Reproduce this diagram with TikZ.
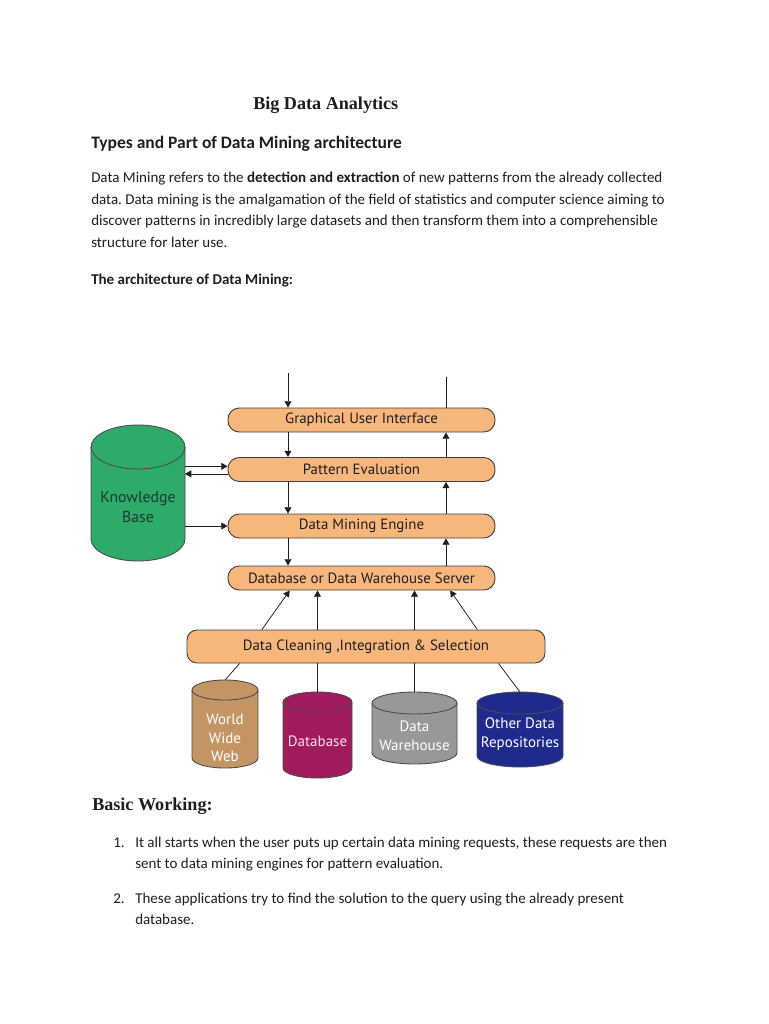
\documentclass[tikz,border=0pt]{standalone}
\usepackage{fontspec}
\setmainfont{Carlito}
\newfontfamily\titlefont{Liberation Serif}
\newfontfamily\diagfont{PT Sans}
\usetikzlibrary{positioning, arrows.meta, calc}
\frenchspacing

\definecolor{boxorange}{RGB}{247,183,124}
\definecolor{kbgreen}{RGB}{46,170,106}
\definecolor{kbtext}{RGB}{28,58,44}
\definecolor{wwwtan}{RGB}{196,149,100}
\definecolor{dbred}{RGB}{160,27,92}
\definecolor{dbtext}{RGB}{255,222,240}
\definecolor{whgray}{RGB}{152,152,152}
\definecolor{othblue}{RGB}{31,42,140}
\definecolor{ink}{RGB}{30,30,30}

% drum: name, centre x, top y, x radius, height, y radius, fill (all in px)
\newcommand{\drum}[7]{%
  \coordinate (#1top) at (#2,#3);
  \coordinate (#1east) at (#2+#4,#3+#5/2);
  \filldraw[fill=#7, draw=ink!80, line width=0.7pt]
    (#2-#4,#3+#6) -- (#2-#4,#3+#5-#6)
    arc[start angle=180, end angle=360, x radius=#4*0.8pt, y radius=#6*0.8pt]
    -- (#2+#4,#3+#6)
    arc[start angle=0, end angle=180, x radius=#4*0.8pt, y radius=#6*0.8pt] -- cycle;
  \draw[ink!80, line width=0.7pt] (#2-#4,#3+#6)
    arc[start angle=180, end angle=360, x radius=#4*0.8pt, y radius=#6*0.8pt];
}

\begin{document}
\begin{tikzpicture}[x=0.8pt, y=-0.8pt,
  layer/.style={draw=ink!85, line width=0.75pt, fill=boxorange, rounded corners=9pt, minimum width=213.6pt, minimum height=19.2pt, inner sep=0pt, font=\diagfont\fontsize{11.9}{14}\selectfont, text=ink},
  storetext/.style={inner sep=0pt, align=center, text=white, font=\diagfont\fontsize{12}{15}\selectfont},
  arr/.style={-{Triangle[length=5pt, width=5.5pt]}, draw=ink, line width=0.6pt},
  link/.style={draw=ink, line width=0.6pt},
  para/.style={anchor=base west, inner sep=0pt, font=\fontsize{12}{14}\selectfont, text=ink}]
\useasboundingbox[fill=white] (0,0) rectangle (768,1024);

% page text
\node[para, font=\titlefont\bfseries\fontsize{14.5}{17}\selectfont] (title) at (253,110) {Big Data Analytics};
\node[para, font=\bfseries\fontsize{14}{16}\selectfont] (head) at (91,148.5) {Types and Part of Data Mining architecture};
\node[para] (intro1) at (91,182.5) {Data Mining refers to the \textbf{detection and extraction} of new patterns from the already collected};
\node[para] (intro2) at (91,204.2) {data. Data mining is the amalgamation of the field of statistics and computer science aiming to};
\node[para] (intro3) at (91,225.9) {discover patterns in incredibly large datasets and then transform them into a comprehensible};
\node[para] (intro4) at (91,247.6) {structure for later use.};
\node[para, font=\bfseries\fontsize{12}{14}\selectfont] (archhead) at (91,284) {The architecture of Data Mining:};

% layers
\node[layer] (gui) at (361.5,420) {Graphical User Interface};
\node[layer] (pat) at (361.5,469.5) {Pattern Evaluation};
\node[layer] (dme) at (361.5,526) {Data Mining Engine};
\node[layer] (dbs) at (361.5,578) {Database or Data Warehouse Server};
\node[layer, rounded corners=8pt, minimum width=286.4pt, minimum height=26.4pt] (clean) at (366,646.5) {Data Cleaning ,Integration \& Selection};

% stores
\drum{kb}{138}{425}{47}{136}{22}{kbgreen}
\drum{www}{225}{680}{33}{88}{10}{wwwtan}
\drum{db}{317.5}{692}{34.5}{86}{10}{dbred}
\drum{wh}{414.5}{692}{42.5}{72}{11}{whgray}
\drum{oth}{520}{692}{43}{75}{11}{othblue}
\node[storetext, text=kbtext, font=\diagfont\fontsize{12.6}{16}\selectfont] (kb) at (138,507) {Knowledge\\Base};
\node[storetext] (www) at (225,738) {World\\Wide\\Web};
\node[storetext, text=dbtext] (db) at (317.5,741) {Database};
\node[storetext] (wh) at (414.5,736) {Data\\Warehouse};
\node[storetext] (oth) at (520,734) {Other Data\\Repositories};

% connectors
\coordinate (in) at (288,373);
\coordinate (out) at (446,377);
\draw[arr] (in) -- (gui.north -| in);
\draw[arr] (gui.south -| in) -- (pat.north -| in);
\draw[arr] (pat.south -| in) -- (dme.north -| in);
\draw[arr] (dme.south -| in) -- (dbs.north -| in);
\draw[link] (gui.north -| out) -- (out);
\draw[arr] (pat.north -| out) -- (gui.south -| out);
\draw[arr] (dme.north -| out) -- (pat.south -| out);
\draw[arr] (dbs.north -| out) -- (dme.south -| out);

\coordinate (kbin) at ([yshift=2.5pt]pat.west);
\coordinate (kbout) at ([yshift=-3.5pt]pat.west);
\draw[arr] (kbeast |- kbin) -- (kbin);
\draw[arr] (kbout) -- (kbeast |- kbout);
\draw[arr] (kbeast |- dme.west) -- (dme.west);

\draw[arr] ($(clean.north west)!0.21!(clean.north east)$) -- ($(dbs.south west)!0.232!(dbs.south east)$);
\draw[arr] (clean.north -| dbtop) -- (dbs.south -| dbtop);
\draw[arr] (clean.north -| whtop) -- (dbs.south -| whtop);
\draw[arr] ($(clean.north west)!0.81!(clean.north east)$) -- ($(dbs.south west)!0.831!(dbs.south east)$);

\draw[link] ($(clean.south west)!0.148!(clean.south east)$) -- (wwwtop);
\draw[link] (clean.south -| dbtop) -- (dbtop);
\draw[link] (clean.south -| whtop) -- (whtop);
\draw[link] ($(clean.south west)!0.869!(clean.south east)$) -- (othtop);

% basic working
\node[para, font=\titlefont\bfseries\fontsize{14.5}{17}\selectfont] (basic) at (92,810) {Basic Working:};
\node[para] (n1) at (113,847) {1.};
\node[para] (item1a) at (135,847) {It all starts when the user puts up certain data mining requests, these requests are then};
\node[para] (item1b) at (135,868) {sent to data mining engines for pattern evaluation.};
\node[para] (n2) at (113,903) {2.};
\node[para] (item2a) at (135,903) {These applications try to find the solution to the query using the already present};
\node[para] (item2b) at (135,924) {database.};
\end{tikzpicture}
\end{document}
